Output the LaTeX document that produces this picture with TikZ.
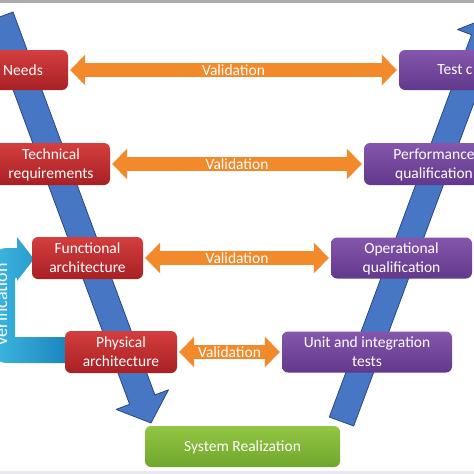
\documentclass[tikz,border=0pt]{standalone}
\usepackage{fontspec}
\setmainfont{Carlito}
\usetikzlibrary{arrows.meta}
\definecolor{redtop}{RGB}{212,62,62}
\definecolor{redbot}{RGB}{168,32,36}
\definecolor{purtop}{RGB}{132,86,172}
\definecolor{purbot}{RGB}{98,56,140}
\definecolor{grntop}{RGB}{146,198,68}
\definecolor{grnbot}{RGB}{112,166,44}
\definecolor{orng}{RGB}{242,137,42}
\definecolor{vblue}{RGB}{70,118,196}
\definecolor{vblueline}{RGB}{40,72,130}
\definecolor{cyanl}{RGB}{62,186,226}
\definecolor{cyand}{RGB}{28,134,190}
\definecolor{topline}{RGB}{170,170,170}
\definecolor{botline}{RGB}{232,232,238}
\begin{document}
\begin{tikzpicture}[x=1pt,y=-1pt,
  box/.style={rounded corners=6pt, text=white, align=center, inner sep=0pt,
    text depth=0pt, font=\fontsize{15.5}{19}\selectfont},
  redbox/.style={box, top color=redtop, bottom color=redbot},
  purbox/.style={box, top color=purtop, bottom color=purbot},
  grnbox/.style={box, top color=grntop, bottom color=grnbot},
  varrow/.style={draw=orng, line width=14pt,
    {Triangle[length=15pt,width=30pt]}-{Triangle[length=15pt,width=30pt]},
    shorten <=2pt, shorten >=2pt},
  vlabel/.style={text=white, inner sep=0pt, font=\fontsize{15.5}{19}\selectfont},
  bigarrow/.style={fill=vblue, draw=vblueline, line width=0.8pt, line join=round}
]
\useasboundingbox (0,0) rectangle (474,474);
\clip (0,0) rectangle (474,474);
\fill[white] (0,0) rectangle (474,474);
\fill[topline] (0,0) rectangle (474,2.5);
\fill[botline] (0,470.5) rectangle (474,474);

% blue V arrows
\filldraw[bigarrow] (13.0,12.0) -- (154.9,394.9) -- (168.5,389.8) -- (151,423)
  -- (116.1,409.4) -- (129.6,404.3) -- (-12.3,21.4) -- cycle;
\filldraw[bigarrow] (329.3,417.0) -- (471.5,34.8) -- (457.5,29.5) -- (492.4,15.9)
  -- (509.9,49.1) -- (495.9,43.8) -- (353.7,426.0) -- cycle;

% verification loop
\shade[left color=cyanl, right color=cyand]
  (66,363) [rounded corners=18pt] -- (-11,363) -- (-11,248) [sharp corners] -- (17,248)
  -- (17,237) -- (34,259) -- (17,281) -- (17,278) -- (15,278) -- (15,337) -- (66,337) -- cycle;
\node[rotate=90, text=white, anchor=base, inner sep=0pt,
  font=\fontsize{18}{20}\selectfont] (verif) at (7,305) {Verification};

% boxes
\node[redbox, minimum width=90pt, minimum height=40pt] (needs) at (23,70) {Needs};
\node[purbox, minimum width=112pt, minimum height=40pt] (testc) at (455,70) {Test c};
\node[redbox, minimum width=118pt, minimum height=42pt] (techreq) at (51,164) {Technical\\requirements};
\node[purbox, minimum width=140pt, minimum height=42pt] (perf) at (434,164) {Performance\\qualification};
\node[redbox, minimum width=111pt, minimum height=42pt] (func) at (87.5,258) {Functional\\architecture};
\node[purbox, minimum width=141pt, minimum height=41pt] (oper) at (401.5,258) {Operational\\qualification};
\node[redbox, minimum width=112pt, minimum height=42pt] (phys) at (121,352) {Physical\\architecture};
\node[purbox, minimum width=170pt, minimum height=41pt] (unit) at (367,352) {Unit and integration\\tests};
\node[grnbox, minimum width=195pt, minimum height=41pt] (sysr) at (242.5,446.5) {System Realization};

% validation arrows
\draw[varrow] (needs) -- (testc) node[vlabel, midway] {Validation};
\draw[varrow] (techreq) -- (perf) node[vlabel, midway] {Validation};
\draw[varrow] (func) -- (oper) node[vlabel, midway] {Validation};
\draw[varrow] (phys) -- (unit) node[vlabel, midway] {Validation};
\end{tikzpicture}
\end{document}
